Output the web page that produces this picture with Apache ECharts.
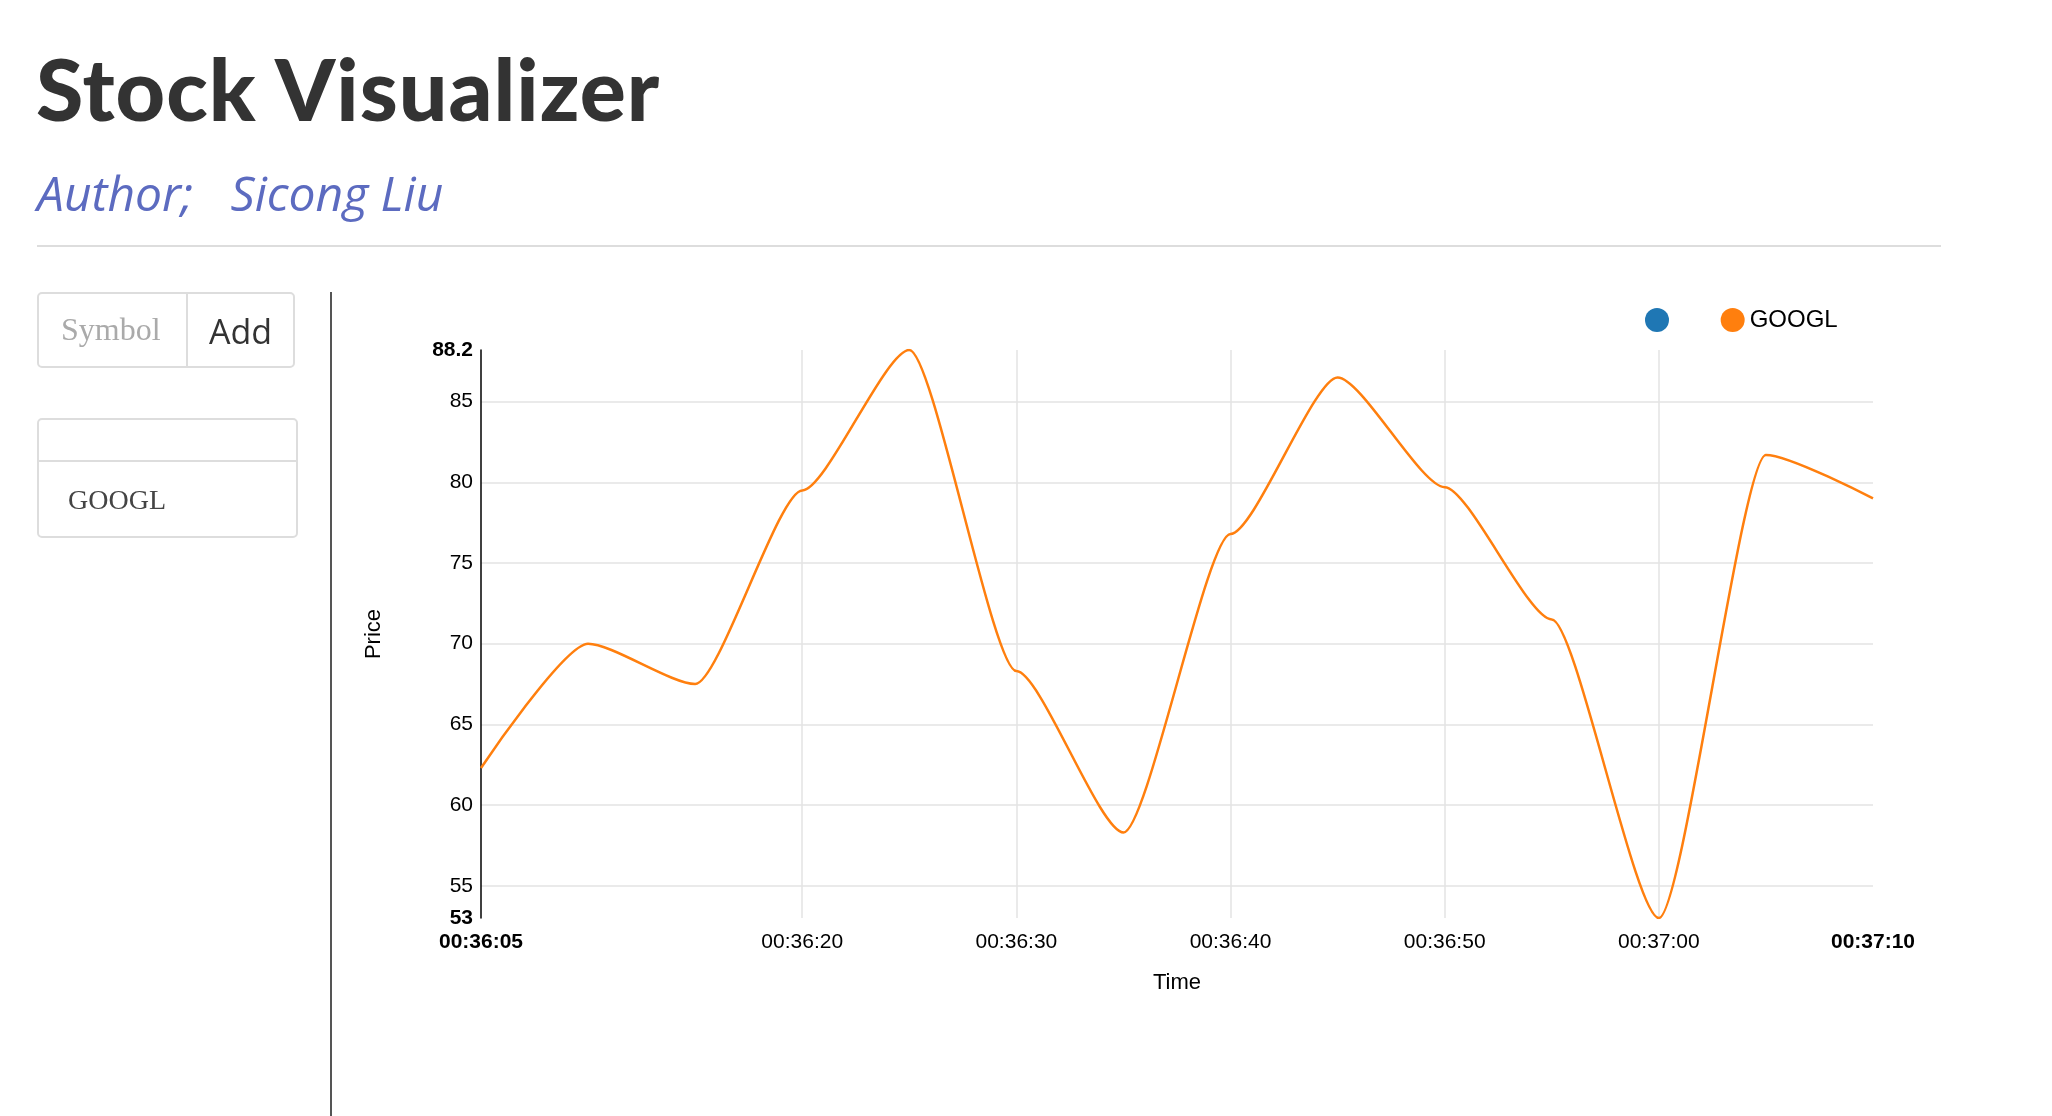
<!DOCTYPE html>
<html><head><meta charset="utf-8">
<script src="https://cdn.jsdelivr.net/npm/echarts@6/dist/echarts.min.js"></script>
<style>
html,body{margin:0;padding:0;width:2052px;height:1116px;background:#fff;overflow:hidden;}
#chart{position:absolute;left:0;top:0;width:2052px;height:1116px;}
.ov{position:absolute;z-index:2;}
h1{position:absolute;left:36px;top:36px;margin:0;font:900 86px Lato,"Open Sans",sans-serif;color:#333;letter-spacing:1px;}
.author{left:37px;top:160px;font:italic 48px "Open Sans",sans-serif;color:#5c6bc0;}
.hr{left:37px;top:245px;width:1904px;height:2px;background:#ddd;}
.vr{left:330px;top:292px;width:2px;height:824px;background:#555;}
.inp{left:37px;top:292px;width:258px;height:76px;border:2px solid #ddd;border-radius:5px;box-sizing:border-box;}
.inp .s{position:absolute;left:22px;top:17px;font:32px "Liberation Serif",serif;color:#aaa;}
.inp .d{position:absolute;left:147px;top:0;width:2px;height:100%;background:#ddd;}
.inp .a{position:absolute;left:170px;top:14px;font:34px "Open Sans",sans-serif;color:#333;}
.lst{left:37px;top:418px;width:261px;height:120px;border:2px solid #ddd;border-radius:5px;box-sizing:border-box;}
.lst .d{position:absolute;left:0;top:40px;width:100%;height:2px;background:#ddd;}
.lst .t{position:absolute;left:29px;top:64px;font:28px "Liberation Serif",serif;color:#444;}
</style></head><body>
<div id="chart"></div>
<h1 class="ov">Stock Visualizer</h1>
<div class="ov author">Author;&nbsp;&nbsp; Sicong Liu</div>
<div class="ov hr"></div>
<div class="ov vr"></div>
<div class="ov inp"><span class="s">Symbol</span><div class="d"></div><span class="a">Add</span></div>
<div class="ov lst"><div class="d"></div><span class="t">GOOGL</span></div>
<script>
const times = ["00:36:05","00:36:10","00:36:15","00:36:20","00:36:25","00:36:30","00:36:35","00:36:40","00:36:45","00:36:50","00:36:55","00:37:00","00:37:05","00:37:10"];
const googl = [62.3,70.0,67.5,79.5,88.2,68.3,58.3,76.8,86.5,79.7,71.5,53.0,81.7,79.0];
const yMin = 53, yMax = 88.2;

const toSec = t => { const p = t.split(':').map(Number); return (p[1]-36)*60 + p[2]; };
const fmt = s => { const m = 36 + Math.floor(s/60), ss = s % 60; return '00:' + m + ':' + String(ss).padStart(2,'0'); };
const xs = times.map(toSec);
const xMin = xs[0], xMax = xs[xs.length-1];

const chart = echarts.init(document.getElementById('chart'));
chart.setOption({
  animation:false,
  legend:{left:1640,top:303,itemWidth:24,itemHeight:24,itemGap:40,icon:'circle',
    textStyle:{fontSize:24,color:'#000',fontFamily:'Liberation Sans'},
    data:[' ','GOOGL']},
  grid:{left:481,right:179,top:350,bottom:198},
  xAxis:{type:'value',min:xMin,max:xMax,splitNumber:7,
    name:'Time',nameLocation:'middle',nameGap:54,nameTextStyle:{fontSize:22,color:'#000',fontFamily:'Liberation Sans'},
    axisLine:{show:false},axisTick:{show:false},
    axisLabel:{fontSize:21,color:'#000',fontFamily:'Liberation Sans',margin:14,
      formatter:v=> (v===10)?'':((v===xMin||v===xMax)?'{b|'+fmt(v)+'}':fmt(v)),
      rich:{b:{fontWeight:'bold',fontSize:21,color:'#000',fontFamily:'Liberation Sans'}}},
    splitLine:{show:true,lineStyle:{width:1.5,color:['transparent','transparent','#e3e3e3','#e3e3e3','#e3e3e3','#e3e3e3','#e3e3e3','transparent']}}},
  yAxis:{type:'value',min:yMin,max:yMax,splitNumber:7,
    name:'Price',nameLocation:'middle',nameGap:96,nameTextStyle:{fontSize:22,color:'#000',fontFamily:'Liberation Sans'},
    axisLine:{show:true,lineStyle:{color:'#000',width:1.5}},axisTick:{show:false},
    axisLabel:{fontSize:21,color:'#000',fontFamily:'Liberation Sans',margin:8,
      formatter:v=> (v===yMin||v===yMax)?'{b|'+v+'}':String(v),
      rich:{b:{fontWeight:'bold',fontSize:21,color:'#000',fontFamily:'Liberation Sans'}}},
    splitLine:{show:true,lineStyle:{width:1.5,color:['transparent','#e3e3e3','#e3e3e3','#e3e3e3','#e3e3e3','#e3e3e3','#e3e3e3','#e3e3e3','transparent']}}},
  series:[
    {name:' ',type:'line',data:[],itemStyle:{color:'#1f77b4'}},
    {name:'GOOGL',type:'line',smooth:0.22,smoothMonotone:'x',showSymbol:false,
     data:xs.map((x,i)=>[x,googl[i]]),
     lineStyle:{color:'#ff7f0e',width:2.5},itemStyle:{color:'#ff7f0e'}}
  ]
});
</script>
</body></html>
